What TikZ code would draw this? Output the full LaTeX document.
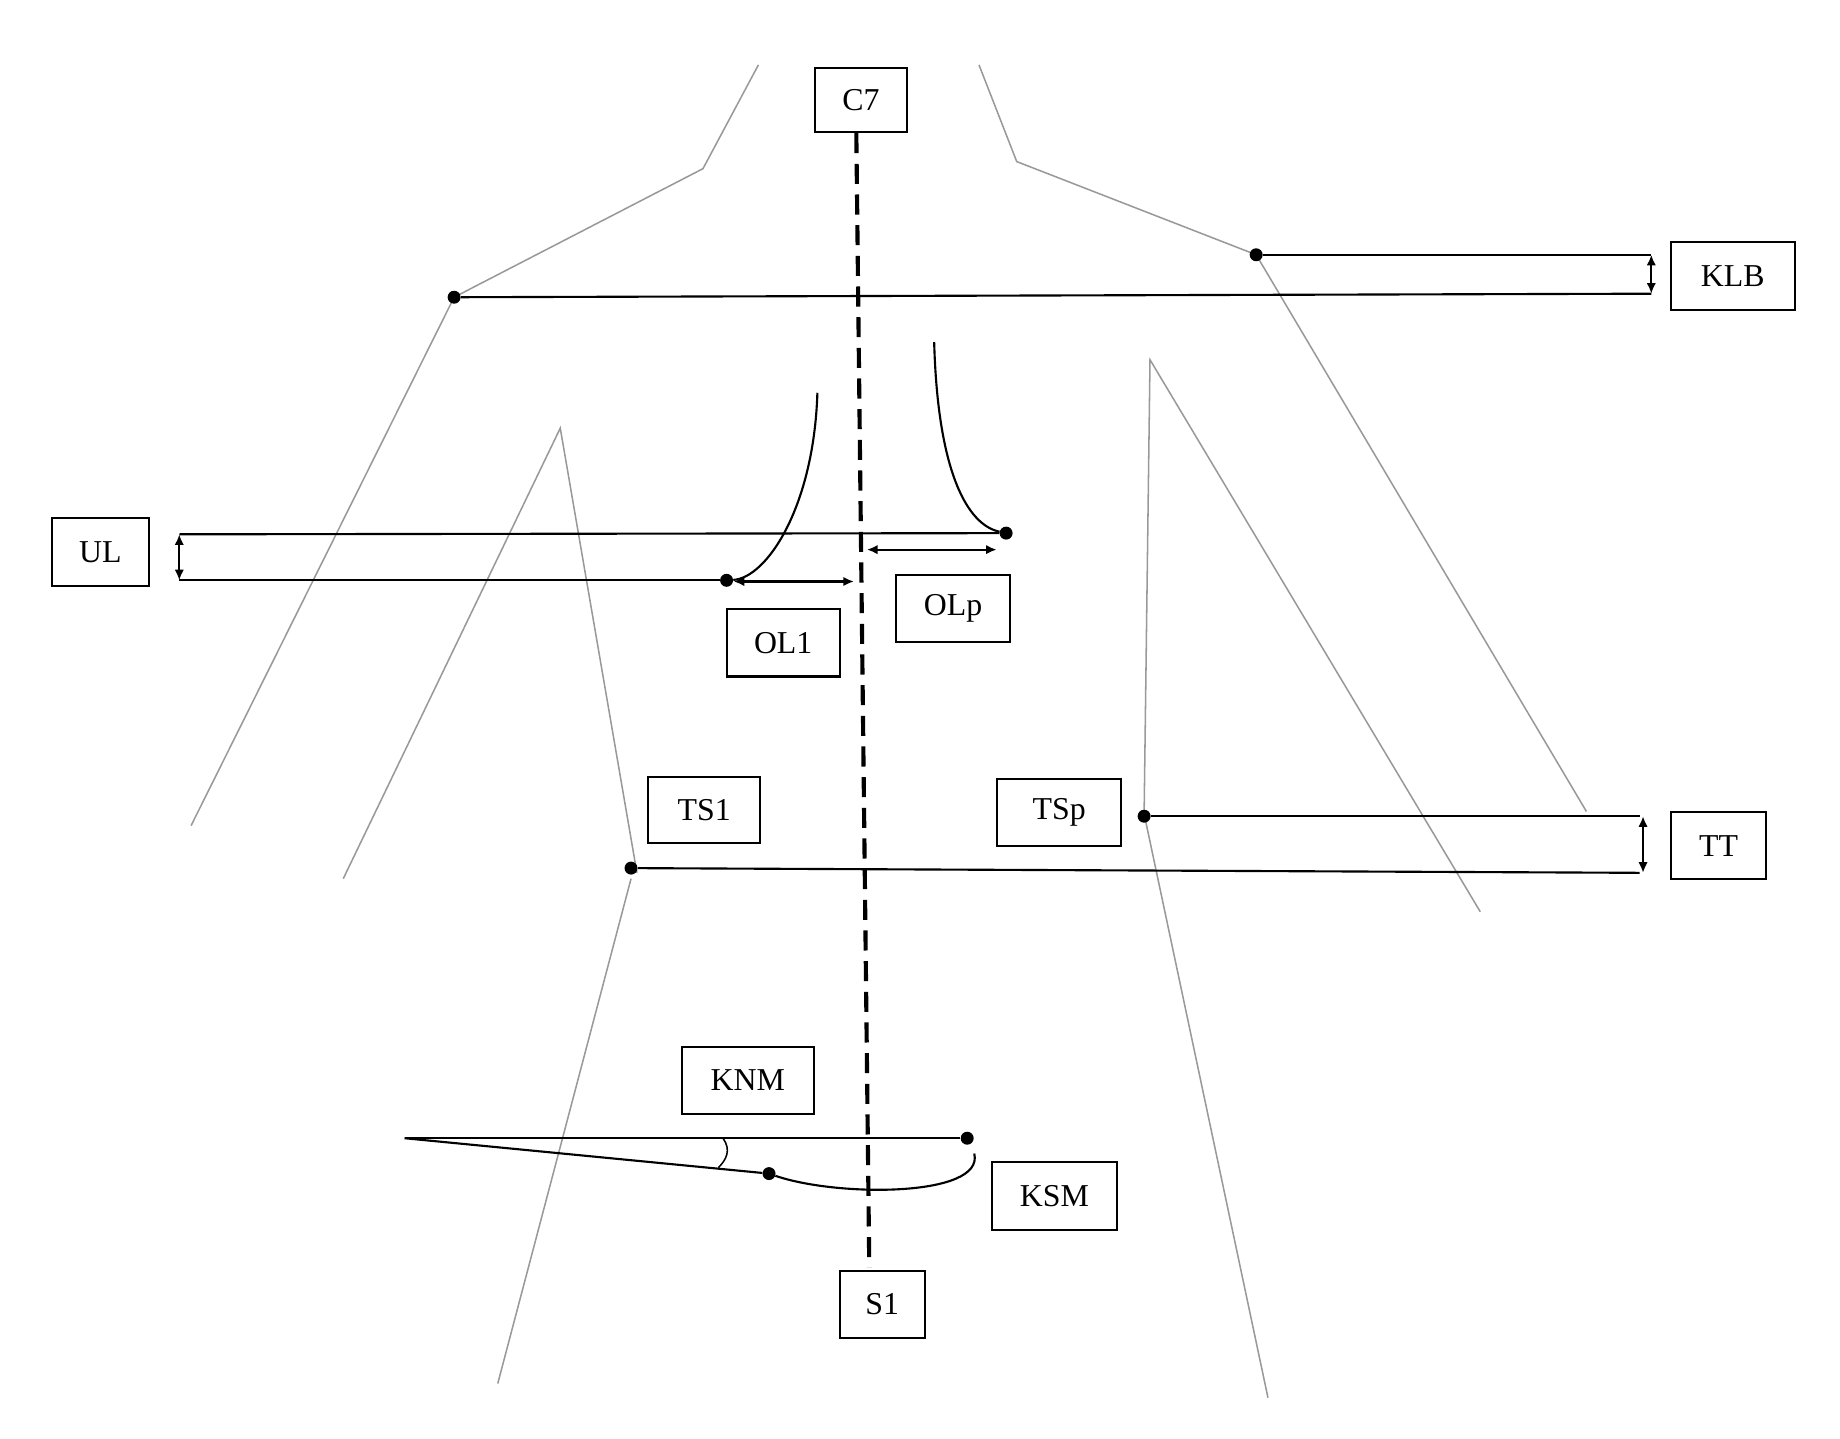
\documentclass[tikz,border=0pt]{standalone}
\usepackage{fontspec}
\setmainfont{Liberation Serif}
\usetikzlibrary{arrows.meta}
\begin{document}
\begin{tikzpicture}[x=1pt,y=-1pt,
 body/.style={draw=black!40,line width=1.3pt},
 ln/.style={draw=black,line width=1.8pt},
 dim/.style={draw=black,line width=1.8pt,{Latex[length=9pt,width=8pt]}-{Latex[length=9pt,width=8pt]}},
 lab/.style={draw=black,line width=1.8pt,fill=white,inner sep=0pt,font=\fontsize{27}{30}\selectfont},
 dot/.style={circle,fill=black,inner sep=0pt,minimum size=11pt}]
\useasboundingbox (0,0) rectangle (1560,1220);
% body outline
\draw[body] (643,55)--(596,143)--(385,252)--(162,700);
\draw[body] (291,745)--(475,363)--(540,740);
\draw[body] (535,745)--(422,1173);
\draw[body] (830,55)--(862,137)--(1065,216)--(1345,688);
\draw[body] (1255,773)--(975,305)--(970,690)--(1075,1185);
% labels
\node[lab,minimum width=78pt,minimum height=54pt] (c7) at (730,85) {C7};
\node[lab,minimum width=72pt,minimum height=57pt] (s1) at (748,1106) {S1};
\draw[line width=3.5pt,dash pattern=on 17pt off 9pt] (c7.south)++(-4,0) coordinate (ct) -- (737,1075) coordinate (sb);
\node[lab,minimum width=105pt,minimum height=57pt] (klb) at (1469,234) {KLB};
\node[lab,minimum width=82pt,minimum height=57pt] (ul) at (85,468) {UL};
\node[lab,minimum width=96pt,minimum height=57pt] (ol1) at (664,545) {OL1};
\node[lab,minimum width=96pt,minimum height=57pt] (olp) at (808,516) {OLp};
\node[lab,minimum width=95pt,minimum height=56pt] (ts1) at (597,687) {TS1};
\node[lab,minimum width=105pt,minimum height=57pt] (tsp) at (898,689) {TSp};
\node[lab,minimum width=81pt,minimum height=57pt] (tt) at (1457,717) {TT};
\node[lab,minimum width=112pt,minimum height=57pt] (knm) at (634,916) {KNM};
\node[lab,minimum width=106pt,minimum height=57pt] (ksm) at (894,1014) {KSM};
% KLB
\node[dot] (d1) at (1065,216) {};
\node[dot] (d2) at (385,252) {};
\coordinate (k1) at (1400,216); \coordinate (k2) at (1400,249);
\draw[ln] (d1)--(k1); \draw[ln] (d2)--(k2);
\draw[dim] (k1)--(k2);
% UL
\node[dot] (d3) at (853,452) {};
\node[dot] (d4) at (616,492) {};
\coordinate (u1) at (152,453); \coordinate (u2) at (152,492);
\draw[ln] (d3)--(u1); \draw[ln] (d4)--(u2);
\draw[dim] (u1)--(u2);
\draw[ln] (693,333) .. controls (690,430) and (650,490) .. (d4);
\draw[ln] (792,290) .. controls (795,400) and (820,445) .. (d3);
\draw[dim] (622,493)--(724,493);
\draw[dim] (735,466)--(845,466);
% TT
\node[dot] (d5) at (970,692) {};
\node[dot] (d6) at (535,736) {};
\coordinate (t1) at (1390,692); \coordinate (t2) at (1390,740);
\draw[ln] (d5)--(t1); \draw[ln] (d6)--(t2);
\draw[dim] (1393,692)--(1393,740);
% KNM / KSM
\node[dot] (d7) at (820,965) {};
\node[dot] (d8) at (652,995) {};
\coordinate (a0) at (343,965);
\draw[ln] (a0)--(d7); \draw[ln] (a0)--(d8);
\draw[ln,line width=1.3pt] (613,965) .. controls (620,975) and (616,983) .. (609,990);
\draw[ln] (d8) .. controls (710,1015) and (835,1015) .. (826,978);
\end{tikzpicture}
\end{document}
